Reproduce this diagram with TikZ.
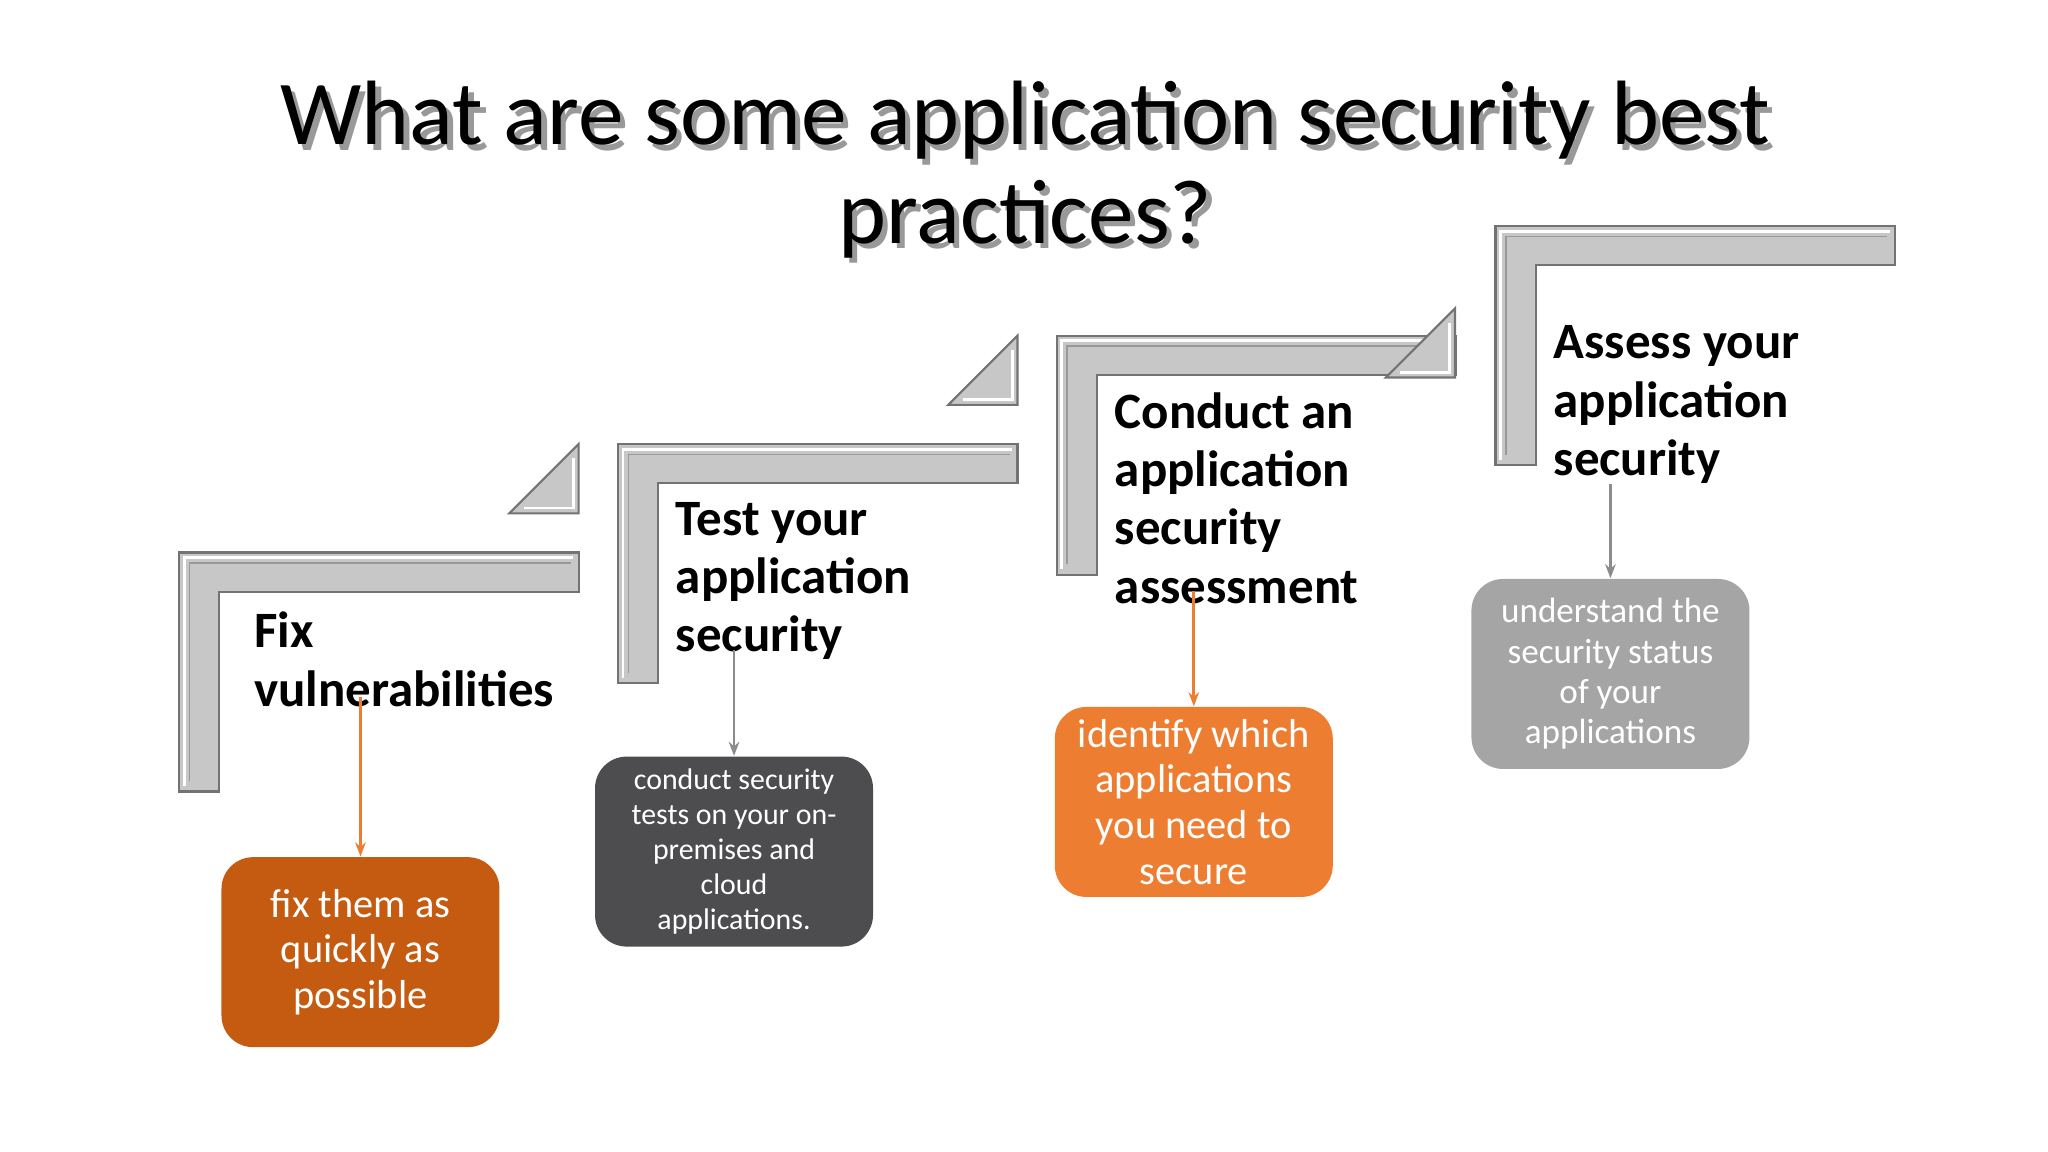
\documentclass[tikz,border=0pt]{standalone}
\usepackage{fontspec}
\setmainfont{Carlito}
\usetikzlibrary{arrows.meta}
\definecolor{rust}{HTML}{C55A11}
\definecolor{slate}{HTML}{4D4D50}
\definecolor{tangerine}{HTML}{ED7D31}
\definecolor{ash}{HTML}{A5A5A5}
\tikzset{
  stairbar/.style={fill=black!22,draw=black!55,line width=0.6pt},
  headline/.style={anchor=north west,inner sep=0pt,align=left,font=\bfseries\fontsize{14.5}{16.6}\selectfont},
  tipbox/.style={rounded corners=9pt,minimum width=2.78cm,minimum height=1.9cm,text=white,align=center,inner sep=2pt},
  link/.style={-{Stealth[length=4pt]},line width=0.8pt}
}
% L-shaped stair with its corner at (#1,#2)
\newcommand{\stair}[2]{%
  \draw[stairbar] (#1,#2) -- ++(306,0) -- ++(0,30) -- ++(-275,0) -- ++(0,153) -- ++(-31,0) -- cycle;
  \draw[white,line width=0.8pt] (#1+4,#2+179) -- (#1+4,#2+4) -- (#1+302,#2+4);
  \draw[black!40] (#1+8,#2+175) -- (#1+8,#2+8) -- (#1+300,#2+8);
}
% triangle marker, bottom right at (#1,#2)
\newcommand{\wedgemark}[2]{%
  \draw[stairbar] (#1-53,#2) -- (#1,#2) -- (#1,#2-53) -- cycle;
  \draw[white,line width=0.8pt] (#1-42,#2-4) -- (#1-4,#2-4) -- (#1-4,#2-42);
}
\begin{document}
\begin{tikzpicture}[x=0.01306cm,y=-0.01306cm]
  \useasboundingbox[fill=white] (0,0) rectangle (1568,882);
  %
  % Title
  \node[text=black!40,align=center,font=\fontsize{26}{28}\selectfont] at (789,134)
    {What are some application security best\\practices?};
  \node (title) [align=center,font=\fontsize{26}{28}\selectfont] at (785,130)
    {What are some application security best\\practices?};
  %
  % Stairs
  \stair{137}{423}
  \stair{473}{340}
  \stair{809}{257}
  \stair{1145}{173}
  \wedgemark{443}{393}
  \wedgemark{779}{310}
  \wedgemark{1114}{289}
  %
  % Headings
  \node (fixhead)    [headline] at (194,468)  {Fix\\vulnerabilities};
  \node (testhead)   [headline] at (517,384)  {Test your\\application\\security};
  \node (conducthead)[headline] at (853,300)  {Conduct an\\application\\security\\assessment};
  \node (assesshead) [headline] at (1189,249) {Assess your\\application\\security};
  %
  % Boxes
  \node (fixbox) [tipbox,fill=rust,font=\fontsize{11.5}{13}\selectfont] at (276,729)
    {fix them as\\quickly as\\possible};
  \node (testbox) [tipbox,fill=slate,font=\fontsize{8.5}{10}\selectfont] at (562,652)
    {conduct security\\tests on your on-\\premises and\\cloud\\applications.};
  \node (conductbox) [tipbox,fill=tangerine,font=\fontsize{11.5}{13}\selectfont] at (914,614)
    {identify which\\applications\\you need to\\secure};
  \node (assessbox) [tipbox,fill=ash,font=\fontsize{10}{11.5}\selectfont] at (1233,516)
    {understand the\\security status\\of your\\applications};
  %
  % Links
  \draw[link,tangerine] (fixbox.north |- fixhead.south) ++(0,-8) -- (fixbox.north);
  \draw[link,black!45] (testbox.north |- testhead.south) ++(0,-8) -- (testbox.north);
  \draw[link,tangerine] (conductbox.north |- conducthead.south) ++(0,-10) -- (conductbox.north);
  \draw[link,black!45] (assessbox.north |- assesshead.south) -- (assessbox.north);
\end{tikzpicture}
\end{document}
